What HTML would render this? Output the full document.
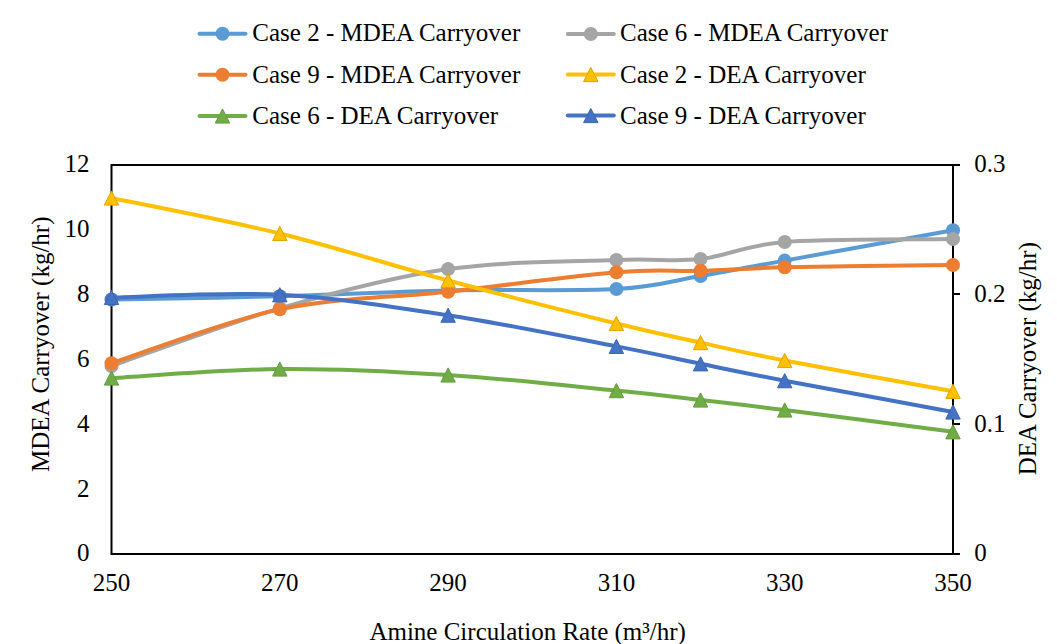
<!DOCTYPE html>
<html><head><meta charset="utf-8"><style>
html,body{margin:0;padding:0;background:#fff;overflow:hidden;}
svg{display:block;}
</style></head><body>
<svg width="1057" height="644" viewBox="0 0 1057 644">
<rect width="1057" height="644" fill="#fff"/>
<g stroke="#000" stroke-width="2" fill="none">
<path d="M110.5,165.0 H960 M111.5,164.0 V555.0 M110.5,554.0 H960 M953.0,164.0 V555.0"/>
<path d="M953.0,294.0 H960"/>
<path d="M953.0,424.0 H960"/>
</g>
<path d="M111.50,299.50 C139.55,298.97 223.70,297.82 279.80,296.30 C335.90,294.78 392.00,291.62 448.10,290.40 C504.20,289.18 574.33,291.40 616.40,289.00 C658.47,286.60 672.50,280.73 700.55,276.00 C728.60,271.27 742.62,268.22 784.70,260.60 C826.78,252.98 924.95,235.35 953.00,230.30" fill="none" stroke="#5B9BD5" stroke-width="4" stroke-linecap="round" stroke-linejoin="round"/>
<circle cx="111.50" cy="299.50" r="7.00" fill="#4A78C8"/>
<circle cx="279.80" cy="296.30" r="7.00" fill="#4A78C8"/>
<circle cx="448.10" cy="290.40" r="7.00" fill="#5B9BD5"/>
<circle cx="616.40" cy="289.00" r="7.00" fill="#5B9BD5"/>
<circle cx="700.55" cy="276.00" r="7.00" fill="#5B9BD5"/>
<circle cx="784.70" cy="260.60" r="7.00" fill="#5B9BD5"/>
<circle cx="953.00" cy="230.30" r="7.00" fill="#5B9BD5"/>
<path d="M111.50,366.00 C139.55,356.38 223.70,324.45 279.80,308.30 C335.90,292.15 392.00,277.15 448.10,269.10 C504.20,261.05 574.33,261.68 616.40,260.00 C658.47,258.32 672.50,262.00 700.55,259.00 C728.60,256.00 742.62,245.32 784.70,242.00 C826.78,238.68 924.95,239.58 953.00,239.10" fill="none" stroke="#A5A5A5" stroke-width="4" stroke-linecap="round" stroke-linejoin="round"/>
<circle cx="111.50" cy="366.00" r="7.00" fill="#A5A5A5"/>
<circle cx="279.80" cy="308.30" r="7.00" fill="#A5A5A5"/>
<circle cx="448.10" cy="269.10" r="7.00" fill="#A5A5A5"/>
<circle cx="616.40" cy="260.00" r="7.00" fill="#A5A5A5"/>
<circle cx="700.55" cy="259.00" r="7.00" fill="#A5A5A5"/>
<circle cx="784.70" cy="242.00" r="7.00" fill="#A5A5A5"/>
<circle cx="953.00" cy="239.10" r="7.00" fill="#A5A5A5"/>
<path d="M111.50,363.20 C139.55,354.22 223.70,321.22 279.80,309.30 C335.90,297.38 392.00,297.87 448.10,291.70 C504.20,285.53 574.33,275.78 616.40,272.30 C658.47,268.82 672.50,271.63 700.55,270.80 C728.60,269.97 742.62,268.27 784.70,267.30 C826.78,266.33 924.95,265.38 953.00,265.00" fill="none" stroke="#ED7D31" stroke-width="4" stroke-linecap="round" stroke-linejoin="round"/>
<circle cx="111.50" cy="363.20" r="7.00" fill="#ED7D31"/>
<circle cx="279.80" cy="309.30" r="7.00" fill="#ED7D31"/>
<circle cx="448.10" cy="291.70" r="7.00" fill="#ED7D31"/>
<circle cx="616.40" cy="272.30" r="7.00" fill="#ED7D31"/>
<circle cx="700.55" cy="270.80" r="7.00" fill="#ED7D31"/>
<circle cx="784.70" cy="267.30" r="7.00" fill="#ED7D31"/>
<circle cx="953.00" cy="265.00" r="7.00" fill="#ED7D31"/>
<path d="M111.50,198.00 C139.55,203.92 223.70,219.75 279.80,233.50 C335.90,247.25 392.00,265.50 448.10,280.50 C504.20,295.50 574.33,313.15 616.40,323.50 C658.47,333.85 672.50,336.43 700.55,342.60 C728.60,348.77 742.62,352.38 784.70,360.50 C826.78,368.62 924.95,386.17 953.00,391.30" fill="none" stroke="#FFC000" stroke-width="4" stroke-linecap="round" stroke-linejoin="round"/>
<path d="M111.50,190.90 L118.70,205.10 L104.30,205.10 Z" fill="#FFC000" stroke="#E0A300" stroke-width="1" stroke-linejoin="miter"/>
<path d="M279.80,226.40 L287.00,240.60 L272.60,240.60 Z" fill="#FFC000" stroke="#E0A300" stroke-width="1" stroke-linejoin="miter"/>
<path d="M448.10,273.40 L455.30,287.60 L440.90,287.60 Z" fill="#FFC000" stroke="#E0A300" stroke-width="1" stroke-linejoin="miter"/>
<path d="M616.40,316.40 L623.60,330.60 L609.20,330.60 Z" fill="#FFC000" stroke="#E0A300" stroke-width="1" stroke-linejoin="miter"/>
<path d="M700.55,335.50 L707.75,349.70 L693.35,349.70 Z" fill="#FFC000" stroke="#E0A300" stroke-width="1" stroke-linejoin="miter"/>
<path d="M784.70,353.40 L791.90,367.60 L777.50,367.60 Z" fill="#FFC000" stroke="#E0A300" stroke-width="1" stroke-linejoin="miter"/>
<path d="M953.00,384.20 L960.20,398.40 L945.80,398.40 Z" fill="#FFC000" stroke="#E0A300" stroke-width="1" stroke-linejoin="miter"/>
<path d="M111.50,378.00 C139.55,376.50 223.70,369.50 279.80,369.00 C335.90,368.50 392.00,371.40 448.10,375.00 C504.20,378.60 574.33,386.43 616.40,390.60 C658.47,394.77 672.50,396.77 700.55,400.00 C728.60,403.23 742.62,404.70 784.70,410.00 C826.78,415.30 924.95,428.17 953.00,431.80" fill="none" stroke="#70AD47" stroke-width="4" stroke-linecap="round" stroke-linejoin="round"/>
<path d="M111.50,370.90 L118.70,385.10 L104.30,385.10 Z" fill="#70AD47" stroke="#649C3E" stroke-width="1" stroke-linejoin="miter"/>
<path d="M279.80,361.90 L287.00,376.10 L272.60,376.10 Z" fill="#70AD47" stroke="#649C3E" stroke-width="1" stroke-linejoin="miter"/>
<path d="M448.10,367.90 L455.30,382.10 L440.90,382.10 Z" fill="#70AD47" stroke="#649C3E" stroke-width="1" stroke-linejoin="miter"/>
<path d="M616.40,383.50 L623.60,397.70 L609.20,397.70 Z" fill="#70AD47" stroke="#649C3E" stroke-width="1" stroke-linejoin="miter"/>
<path d="M700.55,392.90 L707.75,407.10 L693.35,407.10 Z" fill="#70AD47" stroke="#649C3E" stroke-width="1" stroke-linejoin="miter"/>
<path d="M784.70,402.90 L791.90,417.10 L777.50,417.10 Z" fill="#70AD47" stroke="#649C3E" stroke-width="1" stroke-linejoin="miter"/>
<path d="M953.00,424.70 L960.20,438.90 L945.80,438.90 Z" fill="#70AD47" stroke="#649C3E" stroke-width="1" stroke-linejoin="miter"/>
<path d="M111.50,297.50 C139.55,297.05 223.70,291.85 279.80,294.80 C335.90,297.75 392.00,306.60 448.10,315.20 C504.20,323.80 574.33,338.30 616.40,346.40 C658.47,354.50 672.50,358.08 700.55,363.80 C728.60,369.52 742.62,372.67 784.70,380.70 C826.78,388.73 924.95,406.78 953.00,412.00" fill="none" stroke="#4472C4" stroke-width="4" stroke-linecap="round" stroke-linejoin="round"/>
<path d="M111.50,290.40 L118.70,304.60 L104.30,304.60 Z" fill="#4472C4" stroke="#3D66B0" stroke-width="1" stroke-linejoin="miter"/>
<path d="M279.80,287.70 L287.00,301.90 L272.60,301.90 Z" fill="#4472C4" stroke="#3D66B0" stroke-width="1" stroke-linejoin="miter"/>
<path d="M448.10,308.10 L455.30,322.30 L440.90,322.30 Z" fill="#4472C4" stroke="#3D66B0" stroke-width="1" stroke-linejoin="miter"/>
<path d="M616.40,339.30 L623.60,353.50 L609.20,353.50 Z" fill="#4472C4" stroke="#3D66B0" stroke-width="1" stroke-linejoin="miter"/>
<path d="M700.55,356.70 L707.75,370.90 L693.35,370.90 Z" fill="#4472C4" stroke="#3D66B0" stroke-width="1" stroke-linejoin="miter"/>
<path d="M784.70,373.60 L791.90,387.80 L777.50,387.80 Z" fill="#4472C4" stroke="#3D66B0" stroke-width="1" stroke-linejoin="miter"/>
<path d="M953.00,404.90 L960.20,419.10 L945.80,419.10 Z" fill="#4472C4" stroke="#3D66B0" stroke-width="1" stroke-linejoin="miter"/>
<text x="89.6" y="561.3" text-anchor="end" font-family="Liberation Serif, serif" font-size="25" fill="#000">0</text>
<text x="89.6" y="496.5" text-anchor="end" font-family="Liberation Serif, serif" font-size="25" fill="#000">2</text>
<text x="89.6" y="431.6" text-anchor="end" font-family="Liberation Serif, serif" font-size="25" fill="#000">4</text>
<text x="89.6" y="366.8" text-anchor="end" font-family="Liberation Serif, serif" font-size="25" fill="#000">6</text>
<text x="89.6" y="302.0" text-anchor="end" font-family="Liberation Serif, serif" font-size="25" fill="#000">8</text>
<text x="89.6" y="237.1" text-anchor="end" font-family="Liberation Serif, serif" font-size="25" fill="#000">10</text>
<text x="89.6" y="172.3" text-anchor="end" font-family="Liberation Serif, serif" font-size="25" fill="#000">12</text>
<text x="974.3" y="561.3" font-family="Liberation Serif, serif" font-size="25" fill="#000">0</text>
<text x="974.3" y="431.6" font-family="Liberation Serif, serif" font-size="25" fill="#000">0.1</text>
<text x="974.3" y="302.0" font-family="Liberation Serif, serif" font-size="25" fill="#000">0.2</text>
<text x="974.3" y="172.3" font-family="Liberation Serif, serif" font-size="25" fill="#000">0.3</text>
<text x="111.5" y="591" text-anchor="middle" font-family="Liberation Serif, serif" font-size="25" fill="#000">250</text>
<text x="279.8" y="591" text-anchor="middle" font-family="Liberation Serif, serif" font-size="25" fill="#000">270</text>
<text x="448.1" y="591" text-anchor="middle" font-family="Liberation Serif, serif" font-size="25" fill="#000">290</text>
<text x="616.4" y="591" text-anchor="middle" font-family="Liberation Serif, serif" font-size="25" fill="#000">310</text>
<text x="784.7" y="591" text-anchor="middle" font-family="Liberation Serif, serif" font-size="25" fill="#000">330</text>
<text x="953.0" y="591" text-anchor="middle" font-family="Liberation Serif, serif" font-size="25" fill="#000">350</text>
<text x="369.4" y="639.6" font-family="Liberation Serif, serif" font-size="25" fill="#000">Amine Circulation Rate (m³/hr)</text>
<text transform="translate(48.8,472) rotate(-90)" x="0" y="0" font-family="Liberation Serif, serif" font-size="25" fill="#000">MDEA Carryover (kg/hr)</text>
<text transform="translate(1035.8,475.3) rotate(-90)" x="0" y="0" font-family="Liberation Serif, serif" font-size="25" fill="#000">DEA Carryover (kg/hr)</text>
<path d="M199.5,33.8 H245.5" stroke="#5B9BD5" stroke-width="4" stroke-linecap="round"/>
<circle cx="222.50" cy="33.80" r="7.00" fill="#5B9BD5"/>
<text x="252.3" y="41.0" font-family="Liberation Serif, serif" font-size="25" fill="#000">Case 2 - MDEA Carryover</text>
<path d="M567.8,34.0 H613.8" stroke="#A5A5A5" stroke-width="4" stroke-linecap="round"/>
<circle cx="590.80" cy="34.00" r="7.00" fill="#A5A5A5"/>
<text x="620.0" y="41.0" font-family="Liberation Serif, serif" font-size="25" fill="#000">Case 6 - MDEA Carryover</text>
<path d="M199.5,74.7 H245.5" stroke="#ED7D31" stroke-width="4" stroke-linecap="round"/>
<circle cx="222.50" cy="74.70" r="7.00" fill="#ED7D31"/>
<text x="252.3" y="82.5" font-family="Liberation Serif, serif" font-size="25" fill="#000">Case 9 - MDEA Carryover</text>
<path d="M567.8,74.5 H613.8" stroke="#FFC000" stroke-width="4" stroke-linecap="round"/>
<path d="M590.80,67.40 L598.00,81.60 L583.60,81.60 Z" fill="#FFC000" stroke="#E0A300" stroke-width="1" stroke-linejoin="miter"/>
<text x="620.0" y="82.5" font-family="Liberation Serif, serif" font-size="25" fill="#000">Case 2 - DEA Carryover</text>
<path d="M199.5,116.0 H245.5" stroke="#70AD47" stroke-width="4" stroke-linecap="round"/>
<path d="M222.50,108.90 L229.70,123.10 L215.30,123.10 Z" fill="#70AD47" stroke="#649C3E" stroke-width="1" stroke-linejoin="miter"/>
<text x="252.3" y="123.9" font-family="Liberation Serif, serif" font-size="25" fill="#000">Case 6 - DEA Carryover</text>
<path d="M567.8,115.5 H613.8" stroke="#4472C4" stroke-width="4" stroke-linecap="round"/>
<path d="M590.80,108.40 L598.00,122.60 L583.60,122.60 Z" fill="#4472C4" stroke="#3D66B0" stroke-width="1" stroke-linejoin="miter"/>
<text x="620.0" y="123.9" font-family="Liberation Serif, serif" font-size="25" fill="#000">Case 9 - DEA Carryover</text>
</svg>
</body></html>
